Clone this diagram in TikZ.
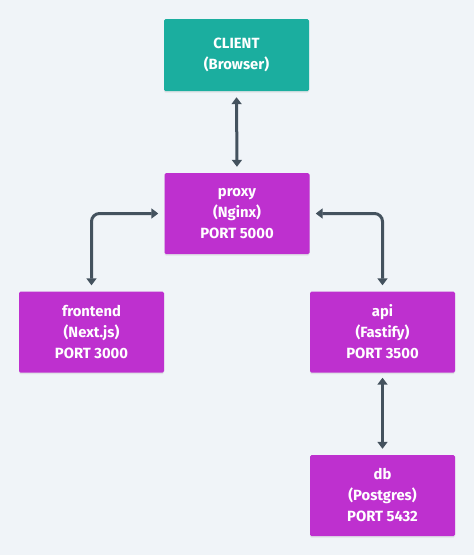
\documentclass[tikz,border=0pt]{standalone}
\usepackage{fontspec}
\setmainfont{Fira Sans}
\usetikzlibrary{arrows.meta,shadows}
\definecolor{bg}{HTML}{F0F4F8}
\definecolor{teal}{HTML}{1BAE9F}
\definecolor{mag}{HTML}{BE30CF}
\definecolor{conn}{HTML}{44525E}
\tikzset{
  box/.style={rectangle, rounded corners=1.5pt, minimum width=145pt, minimum height=81pt,
    align=center, text=white, font=\fontsize{14.8}{21}\selectfont\bfseries, inner sep=0pt,
    drop shadow={shadow xshift=0pt, shadow yshift=-1.5pt, opacity=0.15}},
  conn/.style={draw=conn, line width=3pt, {Triangle[length=7pt,width=10pt]}-{Triangle[length=7pt,width=10pt]}, rounded corners=8pt}
}
\begin{document}
\begin{tikzpicture}[x=1pt,y=-1pt]
\fill[bg] (0,0) rectangle (474,555);
\useasboundingbox (0,0) rectangle (474,555);
\node[box, fill=teal, minimum height=72pt] (client) at (236.5,55) {CLIENT\\(Browser)};
\node[box, fill=mag] (proxy) at (237,213.5) {proxy\\(Nginx)\\PORT 5000};
\node[box, fill=mag] (frontend) at (91.5,332) {frontend\\(Next.js)\\PORT 3000};
\node[box, fill=mag] (api) at (382.5,332) {api\\(Fastify)\\PORT 3500};
\node[box, fill=mag] (db) at (382.5,495.5) {db\\(Postgres)\\PORT 5432};
\draw[conn, shorten <=6pt, shorten >=6pt] (client.south) -- (proxy.north);
\draw[conn, shorten <=6pt, shorten >=6pt] (proxy.west) -| (frontend.north);
\draw[conn, shorten <=6pt, shorten >=6pt] (proxy.east) -| (api.north);
\draw[conn, shorten <=5pt, shorten >=6pt] (api.south) -- (db.north);
\end{tikzpicture}
\end{document}
